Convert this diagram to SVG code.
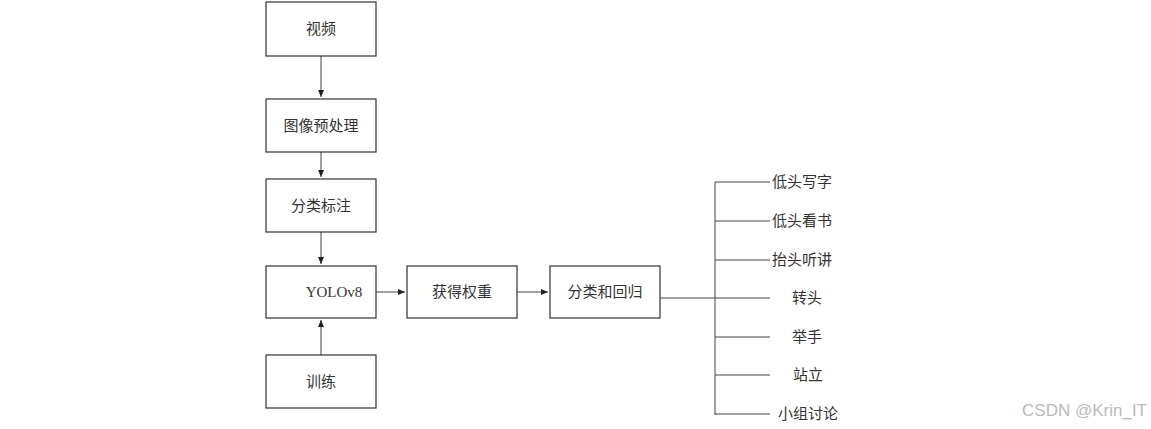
<svg xmlns="http://www.w3.org/2000/svg" width="1151" height="429" viewBox="0 0 1151 429">
<style>
.b{fill:#fff;stroke:#333;stroke-width:1.2}
.t{font-family:"Liberation Serif","Noto Sans CJK SC",serif;font-size:15px;fill:#333;text-anchor:middle;dominant-baseline:central}
.l{stroke:#444;stroke-width:1;fill:none}
.lt{font-family:"Liberation Serif","Noto Sans CJK SC",serif;font-size:15px;fill:#333;dominant-baseline:central}
</style>
<defs><marker id="a" markerWidth="8" markerHeight="8" refX="7" refY="4" orient="auto" markerUnits="userSpaceOnUse"><path d="M0,1L7,4L0,7z" fill="#222"/></marker></defs>
<rect width="1151" height="429" fill="#fff"/>
<g id="connectors" class="l">
<path d="M321,56V97" marker-end="url(#a)"/>
<path d="M321,152V177" marker-end="url(#a)"/>
<path d="M321,232V264" marker-end="url(#a)"/>
<path d="M321,355V320" marker-end="url(#a)"/>
<path d="M376,292H405" marker-end="url(#a)"/>
<path d="M517,292H548" marker-end="url(#a)"/>
<path d="M660,298H715M715,182V415M715,182H770M715,221H770M715,260H770M715,298H770M715,337H770M715,375H770M715,414H770"/>
</g>
<g id="n1"><rect class="b" x="266" y="2" width="110" height="54"/><text class="t" x="321" y="29">视频</text></g>
<g id="n2"><rect class="b" x="266" y="99" width="110" height="53"/><text class="t" x="321" y="126">图像预处理</text></g>
<g id="n3"><rect class="b" x="266" y="179" width="110" height="53"/><text class="t" x="321" y="206">分类标注</text></g>
<g id="n4"><rect class="b" x="266" y="266" width="110" height="52"/><text class="t" x="334" y="292">YOLOv8</text></g>
<g id="n5"><rect class="b" x="266" y="355" width="110" height="53"/><text class="t" x="321" y="382">训练</text></g>
<g id="n6"><rect class="b" x="407" y="266" width="110" height="52"/><text class="t" x="462" y="292">获得权重</text></g>
<g id="n7"><rect class="b" x="550" y="266" width="110" height="52"/><text class="t" x="605" y="292">分类和回归</text></g>
<g id="leaves">
<text class="lt" x="772" y="182">低头写字</text>
<text class="lt" x="772" y="221">低头看书</text>
<text class="lt" x="772" y="260">抬头听讲</text>
<text class="lt" x="792" y="298">转头</text>
<text class="lt" x="792" y="337">举手</text>
<text class="lt" x="793" y="375">站立</text>
<text class="lt" x="778" y="414">小组讨论</text>
</g>
<text x="1147" y="410" font-family="Liberation Sans,sans-serif" font-size="17" fill="#bbb" text-anchor="end" dominant-baseline="central">CSDN @Krin_IT</text>
</svg>
